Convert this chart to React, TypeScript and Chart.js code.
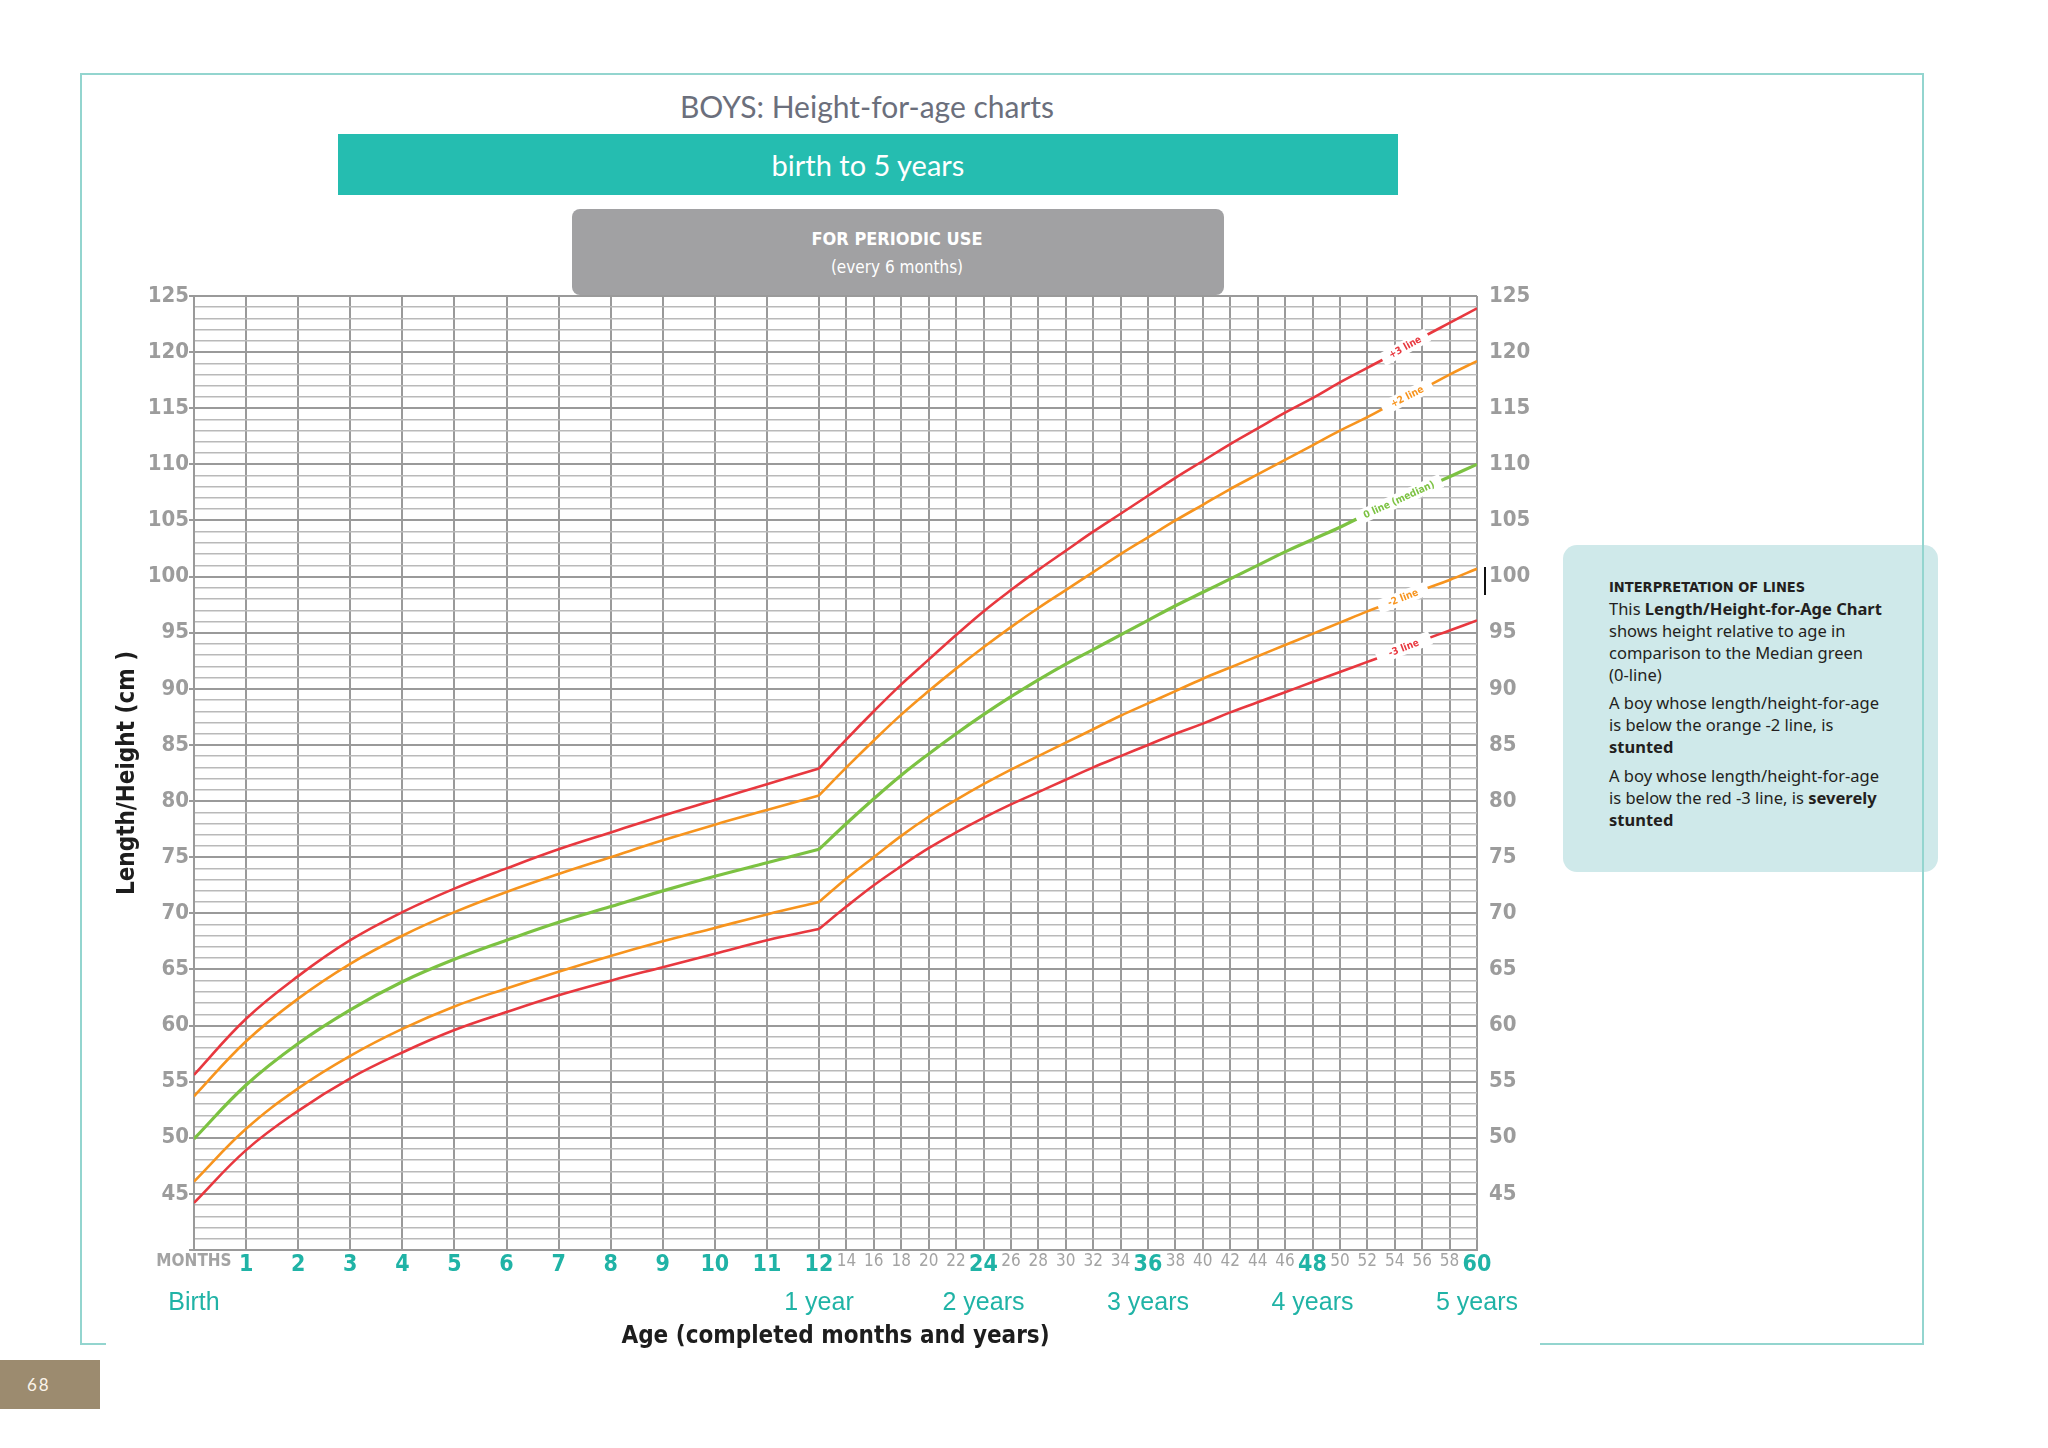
import React, { useEffect, useRef } from 'react';
import { Chart, LinearScale, registerables } from 'chart.js';

// Ages (completed months) at which the reference lines are plotted
const AGE_MONTHS = [0, 1, 2, 3, 4, 5, 6, 7, 8, 9, 10, 11, 12, 14, 16, 18, 20, 22, 24, 26, 28, 30, 32, 34, 36, 38, 40, 42, 44, 46, 48, 50, 52, 54, 56, 58, 60];

// Length/height (cm) for each z-score line
const HEIGHT_PLUS3 = [55.6, 60.6, 64.4, 67.6, 70.1, 72.2, 74.0, 75.7, 77.2, 78.7, 80.1, 81.5, 82.9, 85.5, 88.0, 90.4, 92.6, 94.8, 96.9, 98.8, 100.6, 102.3, 104.0, 105.6, 107.2, 108.8, 110.3, 111.8, 113.2, 114.6, 115.9, 117.3, 118.6, 119.9, 121.3, 122.6, 123.9];
const HEIGHT_PLUS2 = [53.7, 58.6, 62.4, 65.5, 68.0, 70.1, 71.9, 73.5, 75.0, 76.5, 77.9, 79.2, 80.5, 83.0, 85.4, 87.7, 89.8, 91.8, 93.7, 95.5, 97.2, 98.8, 100.4, 102.0, 103.5, 105.0, 106.4, 107.8, 109.1, 110.4, 111.7, 113.0, 114.2, 115.5, 116.7, 118.0, 119.2];
const HEIGHT_MEDIAN = [49.9, 54.7, 58.4, 61.4, 63.9, 65.9, 67.6, 69.2, 70.6, 72.0, 73.3, 74.5, 75.7, 78.0, 80.2, 82.3, 84.2, 86.0, 87.7, 89.3, 90.8, 92.2, 93.5, 94.8, 96.1, 97.4, 98.6, 99.8, 101.0, 102.2, 103.3, 104.4, 105.6, 106.7, 107.8, 108.9, 110.0];
const HEIGHT_MINUS2 = [46.1, 50.8, 54.4, 57.3, 59.7, 61.7, 63.3, 64.8, 66.2, 67.5, 68.7, 69.9, 71.0, 73.1, 75.0, 76.9, 78.6, 80.1, 81.5, 82.8, 84.0, 85.2, 86.4, 87.6, 88.7, 89.8, 90.9, 91.9, 92.9, 93.9, 94.9, 95.9, 96.9, 97.8, 98.8, 99.7, 100.7];
const HEIGHT_MINUS3 = [44.2, 48.9, 52.4, 55.3, 57.6, 59.6, 61.2, 62.7, 64.0, 65.2, 66.4, 67.6, 68.6, 70.6, 72.5, 74.2, 75.8, 77.2, 78.5, 79.7, 80.8, 81.9, 83.0, 84.0, 85.0, 86.0, 86.9, 87.9, 88.8, 89.7, 90.6, 91.5, 92.4, 93.3, 94.3, 95.2, 96.1];

// Month axis: ticks, labels, and which ones are emphasised
const MONTH_TICKS = [0, 1, 2, 3, 4, 5, 6, 7, 8, 9, 10, 11, 12, 14, 16, 18, 20, 22, 24, 26, 28, 30, 32, 34, 36, 38, 40, 42, 44, 46, 48, 50, 52, 54, 56, 58, 60];
const MONTH_TICK_LABELS = ['MONTHS', '1', '2', '3', '4', '5', '6', '7', '8', '9', '10', '11', '12', '14', '16', '18', '20', '22', '24', '26', '28', '30', '32', '34', '36', '38', '40', '42', '44', '46', '48', '50', '52', '54', '56', '58', '60'];
const EMPHASISED_MONTHS = [1, 2, 3, 4, 5, 6, 7, 8, 9, 10, 11, 12, 24, 36, 48, 60];

// Year axis
const YEAR_TICKS = [0, 12, 24, 36, 48, 60];
const YEAR_LABELS = ['Birth', '1 year', '2 years', '3 years', '4 years', '5 years'];

// Height axis
const HEIGHT_MIN = 40;
const HEIGHT_MAX = 125;

// Names written on each line and the age span (months) they occupy
const LINE_NAMES = ['+3 line', '+2 line', '0 line (median)', '-2 line', '-3 line'];
const LINE_NAME_SPANS = [[53.1, 56.4], [53.1, 56.7], [51.2, 57.4], [52.8, 56.4], [52.7, 56.6]];

// Styling
const RED = '#e8383f';
const ORANGE = '#f7941e';
const GREEN = '#7cc242';
const TEAL = '#20b3a6';
const GRID_MAJOR = '#9a9a9a';
const GRID_MINOR = '#b9b9b9';
const LABEL_GREY = '#9c9c9c';
const CONDENSED = "'Liberation Sans Narrow', 'DejaVu Sans Condensed', 'Arial Narrow', sans-serif";
const SANS = "'Liberation Sans', Arial, sans-serif";

// First year is drawn wide, later months compressed
const FIRST_YEAR = 12;
const LATER_STRETCH = 0.2632;

const toAxisPos = (m: number) => (m <= FIRST_YEAR ? m : FIRST_YEAR + (m - FIRST_YEAR) * LATER_STRETCH);
const fromAxisPos = (p: number) => (p <= FIRST_YEAR ? p : FIRST_YEAR + (p - FIRST_YEAR) / LATER_STRETCH);

class AgeScale extends LinearScale {
  static id = 'age';
  static defaults = { ...(LinearScale as any).defaults };

  getPixelForValue(value: number) {
    const a = toAxisPos(this.min);
    const b = toAxisPos(this.max);
    return this.getPixelForDecimal((toAxisPos(value) - a) / (b - a));
  }

  getValueForPixel(pixel: number) {
    const a = toAxisPos(this.min);
    const b = toAxisPos(this.max);
    return fromAxisPos(a + this.getDecimalForPixel(pixel) * (b - a));
  }
}

Chart.register(...registerables, AgeScale as any);

const SERIES = [
  { values: HEIGHT_PLUS3, color: RED, width: 2.6 },
  { values: HEIGHT_PLUS2, color: ORANGE, width: 2.6 },
  { values: HEIGHT_MEDIAN, color: GREEN, width: 3.2 },
  { values: HEIGHT_MINUS2, color: ORANGE, width: 2.6 },
  { values: HEIGHT_MINUS3, color: RED, width: 2.6 },
];

function heightAt(values: number[], month: number) {
  for (let i = 0; i < AGE_MONTHS.length - 1; i++) {
    const m0 = AGE_MONTHS[i];
    const m1 = AGE_MONTHS[i + 1];
    if (month >= m0 && month <= m1) {
      const t = (month - m0) / (m1 - m0);
      return values[i] + t * (values[i + 1] - values[i]);
    }
  }
  return values[values.length - 1];
}

// Each line is drawn in two pieces (first year / later) so the change of
// horizontal scale at 12 months stays a clean corner.
function buildDatasets() {
  const out: any[] = [];
  SERIES.forEach((s) => {
    const first: { x: number; y: number }[] = [];
    const later: { x: number; y: number }[] = [];
    AGE_MONTHS.forEach((m, i) => {
      if (m <= FIRST_YEAR) first.push({ x: m, y: s.values[i] });
      if (m >= FIRST_YEAR) later.push({ x: m, y: s.values[i] });
    });
    [first, later].forEach((pts) =>
      out.push({
        data: pts,
        borderColor: s.color,
        borderWidth: s.width,
        pointRadius: 0,
        fill: false,
        tension: 0.4,
        xAxisID: 'x',
        yAxisID: 'y',
      })
    );
  });
  return out;
}

// Writes each line's name on a white tag laid along the line
const lineNamePlugin = {
  id: 'lineNames',
  afterDatasetsDraw(chart: any) {
    const { ctx } = chart;
    const xs = chart.scales.x;
    const ys = chart.scales.y;
    SERIES.forEach((s, i) => {
      const [m0, m1] = LINE_NAME_SPANS[i];
      const x0 = xs.getPixelForValue(m0);
      const y0 = ys.getPixelForValue(heightAt(s.values, m0));
      const x1 = xs.getPixelForValue(m1);
      const y1 = ys.getPixelForValue(heightAt(s.values, m1));
      const len = Math.hypot(x1 - x0, y1 - y0);
      const ang = Math.atan2(y1 - y0, x1 - x0);
      ctx.save();
      ctx.translate((x0 + x1) / 2, (y0 + y1) / 2);
      ctx.rotate(ang);
      ctx.fillStyle = '#ffffff';
      ctx.fillRect(-len / 2, -7, len, 14);
      ctx.fillStyle = s.color;
      ctx.font = `bold 10px ${CONDENSED}`;
      ctx.textAlign = 'center';
      ctx.textBaseline = 'middle';
      ctx.fillText(LINE_NAMES[i], 0, 0.5);
      ctx.restore();
    });
  },
};

const isMajor = (v: number) => Math.round(v) % 5 === 0;
const heightLabel = (v: number) => (isMajor(v) && v >= 45 ? String(v) : '');

function GrowthChart() {
  const ref = useRef<HTMLCanvasElement | null>(null);

  useEffect(() => {
    if (!ref.current) return;
    const chart = new Chart(ref.current, {
      type: 'line',
      data: { datasets: buildDatasets() },
      options: {
        animation: false,
        responsive: false,
        devicePixelRatio: 1,
        events: [],
        layout: { padding: { top: 26, left: 0, right: 0, bottom: 0 } },
        plugins: { legend: { display: false }, tooltip: { enabled: false }, title: { display: false } },
        scales: {
          x: {
            type: 'age' as any,
            position: 'bottom',
            weight: 0,
            min: 0,
            max: 60,
            afterBuildTicks: (s: any) => {
              s.ticks = MONTH_TICKS.map((v) => ({ value: v }));
            },
            afterFit: (s: any) => {
              s.height = 32;
            },
            grid: { color: GRID_MAJOR, lineWidth: 2, drawTicks: false },
            border: { color: GRID_MAJOR, width: 2 },
            ticks: {
              autoSkip: false,
              maxRotation: 0,
              minRotation: 0,
              padding: 1,
              callback: (v: any) => MONTH_TICK_LABELS[MONTH_TICKS.indexOf(Number(v))],
              color: (c: any) => {
                const v = c.tick ? c.tick.value : 0;
                return EMPHASISED_MONTHS.includes(v) ? TEAL : '#a3a3a3';
              },
              font: (c: any) => {
                const v = c.tick ? c.tick.value : 0;
                if (v === 0) return { family: CONDENSED, size: 17, weight: 'bold' as const };
                if (EMPHASISED_MONTHS.includes(v)) return { family: CONDENSED, size: 23, weight: 'bold' as const };
                return { family: CONDENSED, size: 17, weight: 'normal' as const };
              },
            },
          },
          x2: {
            type: 'age' as any,
            position: 'bottom',
            weight: 1,
            min: 0,
            max: 60,
            afterBuildTicks: (s: any) => {
              s.ticks = YEAR_TICKS.map((v) => ({ value: v }));
            },
            afterFit: (s: any) => {
              s.height = 80;
            },
            grid: { display: false, drawTicks: false },
            border: { display: false },
            ticks: {
              autoSkip: false,
              maxRotation: 0,
              minRotation: 0,
              padding: 6,
              color: TEAL,
              font: { family: SANS, size: 25 },
              callback: (v: any) => YEAR_LABELS[YEAR_TICKS.indexOf(Number(v))],
            },
            title: {
              display: true,
              text: 'Age (completed months and years)',
              color: '#1d1d1d',
              font: { family: CONDENSED, size: 24, weight: 'bold' },
              padding: { top: 0, bottom: 11 },
            },
          },
          y: {
            type: 'linear',
            position: 'left',
            min: HEIGHT_MIN,
            max: HEIGHT_MAX,
            afterFit: (s: any) => {
              s.width = 88;
            },
            grid: {
              color: (c: any) => (isMajor(c.tick.value) ? GRID_MAJOR : GRID_MINOR),
              lineWidth: (c: any) => (isMajor(c.tick.value) ? 2 : 1.5),
              tickLength: 5,
              tickColor: (c: any) => (isMajor(c.tick.value) ? GRID_MAJOR : 'rgba(0,0,0,0)'),
            },
            border: { color: GRID_MAJOR, width: 2 },
            ticks: {
              stepSize: 1,
              autoSkip: false,
              maxTicksLimit: 200,
              padding: 0,
              color: LABEL_GREY,
              font: { family: CONDENSED, size: 22, weight: 'bold' },
              callback: (v: any) => heightLabel(Number(v)),
            },
            title: {
              display: true,
              text: 'Length/Height (cm )',
              color: '#1d1d1d',
              font: { family: CONDENSED, size: 24, weight: 'bold' },
              padding: { top: 7, bottom: 0 },
            },
          },
          y2: {
            type: 'linear',
            position: 'right',
            min: HEIGHT_MIN,
            max: HEIGHT_MAX,
            afterFit: (s: any) => {
              s.width = 63;
            },
            grid: { display: false, drawTicks: false },
            border: { display: false },
            ticks: {
              stepSize: 1,
              autoSkip: false,
              maxTicksLimit: 200,
              padding: 12,
              color: LABEL_GREY,
              font: { family: CONDENSED, size: 22, weight: 'bold' },
              callback: (v: any) => heightLabel(Number(v)),
            },
          },
        },
      },
      plugins: [lineNamePlugin],
    } as any);
    return () => chart.destroy();
  }, []);

  return <canvas ref={ref} width={1434} height={1092} style={{ display: 'block' }} />;
}

export default function App() {
  const abs = (s: React.CSSProperties): React.CSSProperties => ({ position: 'absolute', ...s });
  return (
    <div style={abs({ left: 0, top: 0, width: 2048, height: 1448, background: '#ffffff', overflow: 'hidden', fontFamily: "'Noto Sans', sans-serif" })}>
      {/* info panel */}
      <div
        style={abs({
          left: 1563,
          top: 545,
          width: 375,
          height: 327,
          background: '#cfe9ea',
          borderRadius: 14,
          boxSizing: 'border-box',
          padding: '31px 0 0 46px',
          color: '#231f20',
          fontSize: 16.5,
          lineHeight: '22px',
          whiteSpace: 'nowrap',
          zIndex: 1,
        })}
      >
        <div style={{ fontFamily: CONDENSED, fontWeight: 'bold', fontSize: 14.5 }}>INTERPRETATION OF LINES</div>
        <div>
          This <b>Length/Height-for-Age Chart</b>
          <br />
          shows height relative to age in
          <br />
          comparison to the Median green
          <br />
          (0-line)
        </div>
        <div style={{ marginTop: 6 }}>
          A boy whose length/height-for-age
          <br />
          is below the orange -2 line, is
          <br />
          <b>stunted</b>
        </div>
        <div style={{ marginTop: 7 }}>
          A boy whose length/height-for-age
          <br />
          is below the red -3 line, is <b>severely</b>
          <br />
          <b>stunted</b>
        </div>
      </div>

      {/* page frame */}
      <div style={abs({ left: 80, top: 73, width: 1844, height: 1272, border: '2px solid #93d5cf', boxSizing: 'border-box', zIndex: 2 })} />

      {/* headings */}
      <div style={abs({ left: 517, top: 87, width: 700, textAlign: 'center', fontFamily: 'Lato, sans-serif', fontSize: 30, lineHeight: '38px', color: '#6b6f7c', zIndex: 3 })}>
        BOYS: Height-for-age charts
      </div>
      <div
        style={abs({
          left: 338,
          top: 134,
          width: 1060,
          height: 61,
          background: '#25bdb0',
          color: '#ffffff',
          fontFamily: 'Lato, sans-serif',
          fontSize: 29,
          lineHeight: '61px',
          textAlign: 'center',
          zIndex: 3,
        })}
      >
        birth to 5 years
      </div>

      {/* chart */}
      <div style={abs({ left: 106, top: 270, width: 1434, height: 1092, background: '#ffffff', zIndex: 3 })}>
        <GrowthChart />
      </div>

      {/* usage note */}
      <div style={abs({ left: 572, top: 209, width: 652, height: 86, background: '#a1a1a3', borderRadius: 8, color: '#ffffff', fontFamily: CONDENSED, textAlign: 'center', zIndex: 4 })}>
        <div style={abs({ left: 0, right: 0, top: 18, fontWeight: 'bold', fontSize: 18, lineHeight: '24px', paddingRight: 2 })}>FOR PERIODIC USE</div>
        <div style={abs({ left: 0, right: 0, top: 46, fontSize: 17, lineHeight: '24px', paddingRight: 2 })}>(every 6 months)</div>
      </div>

      {/* caret mark beside the scale */}
      <div style={abs({ left: 1484, top: 567, width: 2, height: 28, background: '#111111', zIndex: 5 })} />

      {/* page number */}
      <div style={abs({ left: 0, top: 1360, width: 100, height: 49, background: '#9c8b6f', color: '#fbf4ea', fontFamily: 'Lato, sans-serif', fontSize: 17, letterSpacing: 2, lineHeight: '49px', paddingLeft: 27, boxSizing: 'border-box' })}>
        68
      </div>
    </div>
  );
}
